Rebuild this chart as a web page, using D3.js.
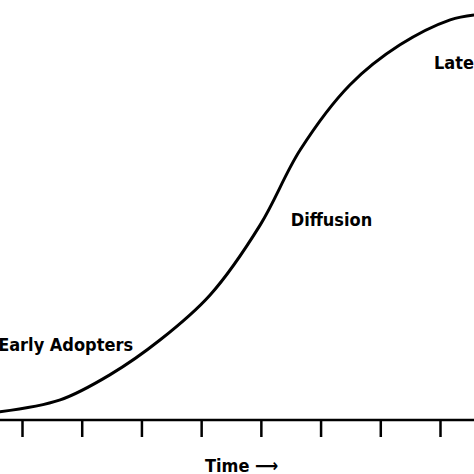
<!DOCTYPE html>
<html><head><meta charset="utf-8">
<script src="https://cdn.jsdelivr.net/npm/d3@7"></script>
<style>body{margin:0;background:#fff}</style></head>
<body><div id="chart"></div>
<script>
// Adoption curve data (time units, percent adopted)
const times = [0.63, 1.64, 2.47, 3.31, 4.15, 4.99, 5.66, 6.49, 7.33, 8.17, 8.57];
const adoption = [2, 4.9, 11, 19.5, 30.5, 47.6, 65.9, 81.7, 91.5, 97.6, 98.8];
const tickValues = [1, 2, 3, 4, 5, 6, 7, 8];
const labels = [
    { text: "Early Adopters", t: 0.6, v: 16.8 },
    { text: "Diffusion", t: 5.5, v: 47.2 },
    { text: "Laters", t: 7.9, v: 85.5 }
];

const width = 474, height = 474;
const svg = d3.select("#chart").append("svg")
    .attr("width", width).attr("height", height);

const x = d3.scaleLinear().domain([1, 8]).range([22, 440]);
const y = d3.scaleLinear().domain([0, 100]).range([420, 10]);

// Axis
svg.append("g")
    .attr("transform", "translate(0,420)")
    .call(d3.axisBottom(x).tickValues(tickValues).tickSize(17).tickFormat(""))
    .call(g => g.select(".domain").attr("d", `M0,0H${width}`).attr("stroke-width", 2.5))
    .call(g => g.selectAll(".tick line").attr("stroke-width", 2.5));

// Curve
svg.append("path")
    .datum(times.map((t, i) => [t, adoption[i]]))
    .attr("fill", "none")
    .attr("stroke", "#000")
    .attr("stroke-width", 3)
    .attr("d", d3.line().x(d => x(d[0])).y(d => y(d[1])).curve(d3.curveCatmullRom.alpha(0.5)));

// Labels
svg.selectAll("text.lbl").data(labels).enter().append("text")
    .attr("x", d => x(d.t)).attr("y", d => y(d.v))
    .attr("font-family", "DejaVu Sans Condensed, sans-serif")
    .attr("font-weight", "bold").attr("font-size", 18)
    .text(d => d.text);

svg.append("text").attr("x", 205).attr("y", 472)
    .attr("font-family", "DejaVu Sans Condensed, sans-serif")
    .attr("font-weight", "bold").attr("font-size", 18)
    .text("Time \u27f6");
</script></body></html>
